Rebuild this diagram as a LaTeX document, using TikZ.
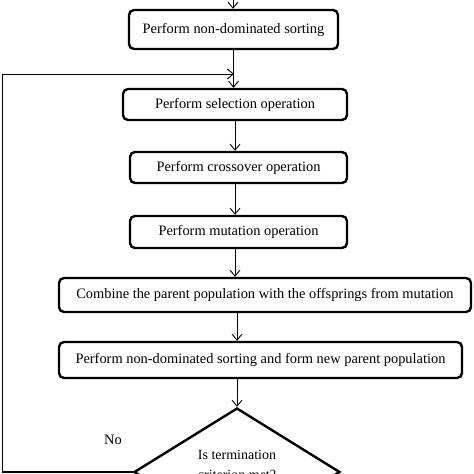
\documentclass[tikz,border=0pt]{standalone}
\usepackage{fontspec}
\setmainfont{Liberation Serif}
\usetikzlibrary{arrows.meta,shapes.geometric}
\begin{document}
\begin{tikzpicture}[x=1pt,y=-1pt,
  procbox/.style={draw,line width=2.4pt,rounded corners=5pt,inner sep=0pt,font=\fontsize{14.4}{16}\selectfont},
  flow/.style={line width=0.9pt,-{Straight Barb[length=6pt,width=10pt,line width=0.9pt]}},
  loopline/.style={line width=1.2pt}]
\useasboundingbox (0,0) rectangle (474,474);
\clip (0,0) rectangle (474,474);
\coordinate (top) at (233,-5);
\node[procbox,minimum width=209pt,minimum height=39pt] (b1) at (233.5,29.5) {\raisebox{2pt}{Perform non-dominated sorting}};
\node[procbox,minimum width=224pt,minimum height=31pt] (b2) at (235,104.5) {Perform selection operation};
\node[procbox,minimum width=217pt,minimum height=31pt] (b3) at (238.5,167.5) {Perform crossover operation};
\node[procbox,minimum width=217pt,minimum height=32pt] (b4) at (238.5,232) {Perform mutation operation};
\node[procbox,minimum width=412pt,minimum height=34pt] (b5) at (265,295) {Combine the parent population with the offsprings from mutation};
\node[procbox,minimum width=403pt,minimum height=36pt] (b6) at (260.5,360) {Perform non-dominated sorting and form new parent population};
\node[draw,diamond,line width=2.4pt,minimum width=206pt,minimum height=128pt,inner sep=0pt] (dec) at (237,472) {};
\node[font=\fontsize{14}{20}\selectfont,align=center,anchor=north] (dect) at (237,447) {Is termination\\criterion met?};
\node[font=\fontsize{14.4}{16}\selectfont] (no) at (113,440) {No};
\coordinate (lb) at (2.5,472);
\coordinate (lt) at (2.5,74);
\coordinate (join) at (234,74);
\draw[flow] (top) -- (b1.north -| top);
\draw[flow] (b1.south) -- (b1.south |- b2.north);
\draw[loopline] (dec.west) -- (lb) -- (lt);
\draw[flow] (lt) -- (join);
\draw[flow] (b2.south) -- (b2.south |- b3.north);
\draw[flow] (b3.south -| b2.south) -- (b2.south |- b4.north);
\draw[flow] (b4.south -| b2.south) -- (b2.south |- b5.north);
\draw[flow] ([xshift=-28pt]b5.south) -- ([xshift=-28pt]b5.south |- b6.north);
\draw[flow] ([xshift=-23.5pt]b6.south) -- (dec.north);
\end{tikzpicture}
\end{document}
